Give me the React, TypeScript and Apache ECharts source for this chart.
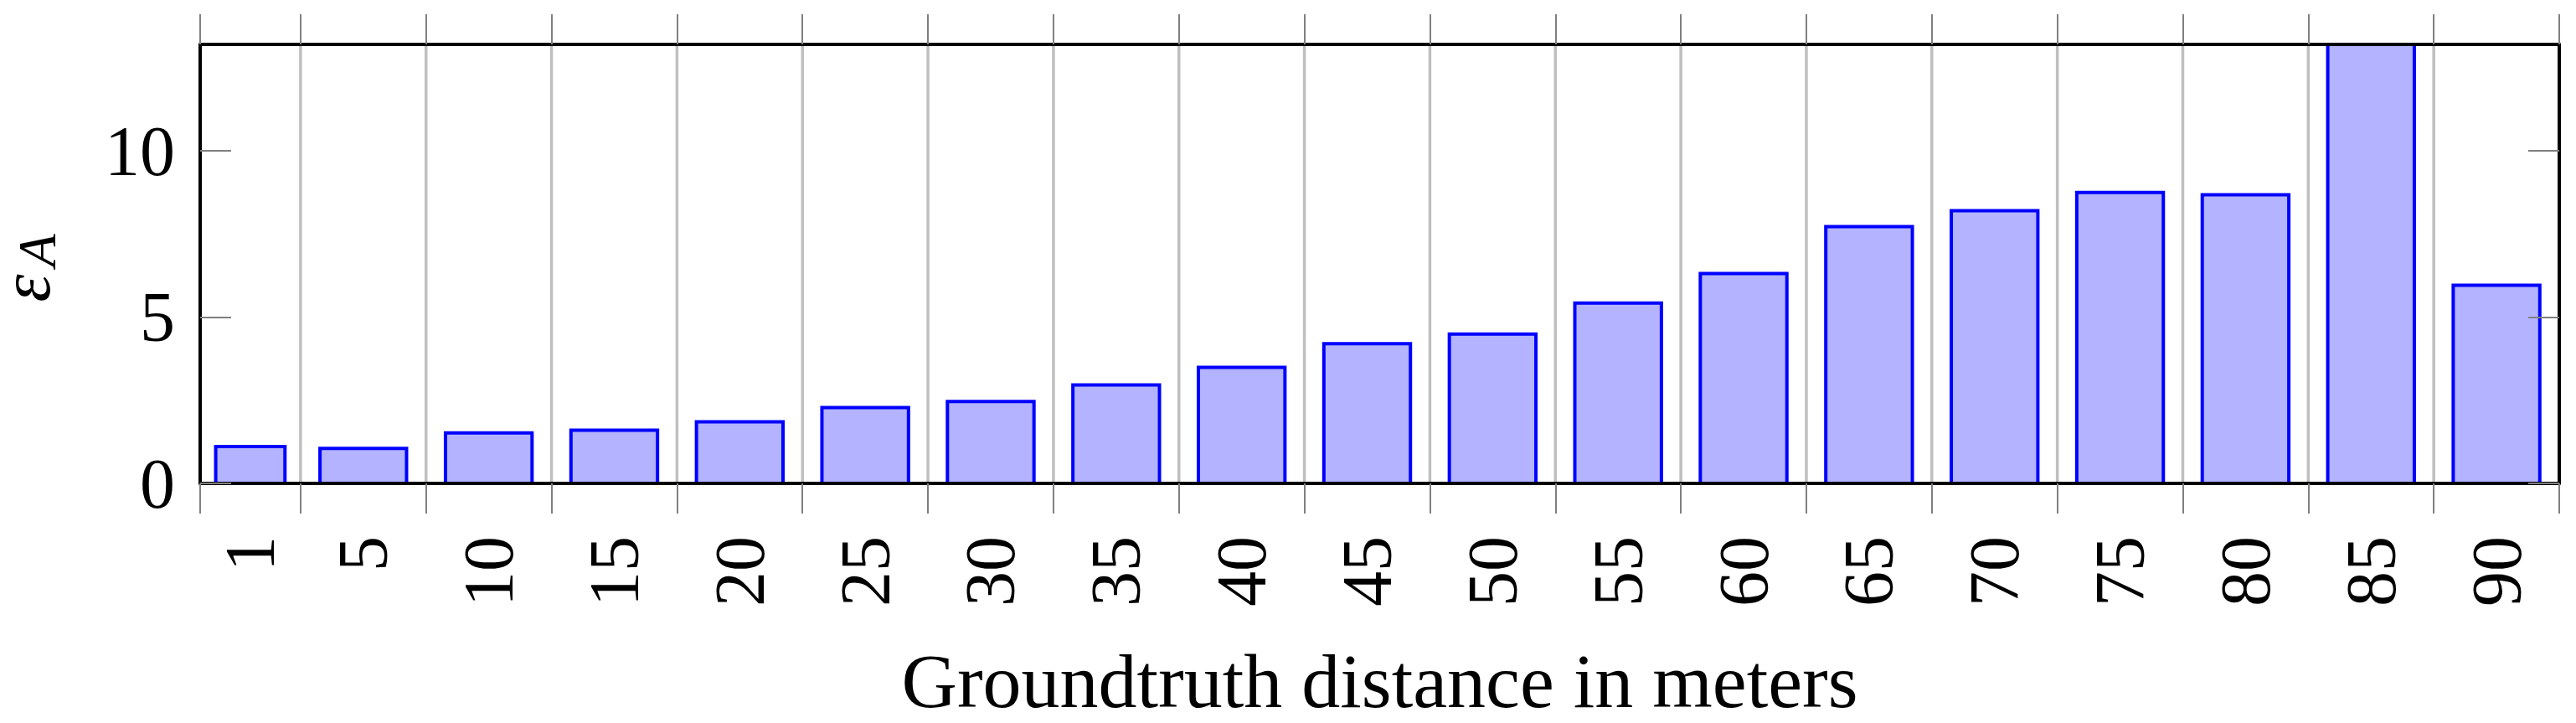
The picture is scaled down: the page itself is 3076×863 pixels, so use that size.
import React, { useEffect, useRef } from "react";
import * as echarts from "echarts";

// ---- data ----
const distanceLabels: string[] = ["1", "5", "10", "15", "20", "25", "30", "35", "40", "45", "50", "55", "60", "65", "70", "75", "80", "85", "90"];
const binEdges: number[] = [1, 5, 10, 15, 20, 25, 30, 35, 40, 45, 50, 55, 60, 65, 70, 75, 80, 85, 90, 95];
const errorValues: number[] = [1.11, 1.05, 1.52, 1.6, 1.85, 2.28, 2.46, 2.96, 3.49, 4.2, 4.49, 5.42, 6.31, 7.72, 8.2, 8.75, 8.68, 13.2, 5.96];
const yTickValues: number[] = [0, 5, 10];
const Y_MAX = 13.2;
const yTitleSymbol = "ε";
const yTitleSubscript = "A";
const xTitle = "Groundtruth distance in meters";

const FONT = "Liberation Serif";
const BAR_FRACTION = 0.69;

export default function App() {
  const ref = useRef<HTMLDivElement>(null);

  useEffect(() => {
    if (!ref.current) return;
    const chart = echarts.init(ref.current, null, { renderer: "svg" });

    const centers = distanceLabels.map((_, i) => (binEdges[i] + binEdges[i + 1]) / 2);
    const barData = errorValues.map((v, i) => [binEdges[i], binEdges[i + 1], v]);
    const gridData = binEdges.slice(1, -1).map((x) => [x, 0]);

    const xCommon = {
      type: "value" as const,
      min: binEdges[0],
      max: binEdges[binEdges.length - 1],
      z: 5,
      splitLine: { show: false },
      axisLine: { show: true, onZero: false, lineStyle: { color: "#000", width: 4 } },
      axisTick: {
        show: true,
        customValues: binEdges,
        length: 36,
        inside: false,
        lineStyle: { color: "#808080", width: 2 },
      },
    };

    const yCommon = {
      type: "value" as const,
      min: 0,
      max: Y_MAX,
      z: 5,
      splitLine: { show: false },
      axisLine: { show: true, onZero: false, lineStyle: { color: "#000", width: 4 } },
      axisTick: {
        show: true,
        customValues: yTickValues,
        length: 37,
        inside: true,
        lineStyle: { color: "#808080", width: 2 },
      },
    };

    chart.setOption({
      animation: false,
      backgroundColor: "#fff",
      grid: { left: 239, right: 20, top: 53, bottom: 286, outerBoundsMode: "none" },
      graphic: [
        {
          type: "text",
          x: 30,
          y: 344,
          rotation: Math.PI / 2,
          style: {
            text: yTitleSymbol,
            font: `italic 84px "${FONT}"`,
            lineHeight: 50,
            fill: "#000",
            textAlign: "center",
            textVerticalAlign: "middle",
          },
        },
        {
          type: "text",
          x: 44,
          y: 299,
          rotation: Math.PI / 2,
          style: {
            text: yTitleSubscript,
            font: `italic 64px "${FONT}"`,
            lineHeight: 50,
            fill: "#000",
            textAlign: "center",
            textVerticalAlign: "middle",
          },
        },
      ],
      xAxis: [
        {
          ...xCommon,
          position: "bottom",
          name: xTitle,
          nameLocation: "middle",
          nameGap: 190,
          nameTextStyle: { fontFamily: FONT, fontSize: 92, color: "#000" },
          axisLabel: {
            show: true,
            customValues: centers,
            rotate: 90,
            margin: 63,
            fontFamily: FONT,
            fontSize: 84,
            color: "#000",
            formatter: (v: number) => {
              const i = centers.findIndex((c) => Math.abs(c - v) < 1e-6);
              return i >= 0 ? distanceLabels[i] : "";
            },
          },
        },
        {
          ...xCommon,
          position: "top",
          axisLabel: { show: false },
        },
      ],
      yAxis: [
        {
          ...yCommon,
          position: "left",
          axisLabel: {
            show: true,
            customValues: yTickValues,
            margin: 30,
            fontFamily: FONT,
            fontSize: 84,
            color: "#000",
          },
        },
        {
          ...yCommon,
          position: "right",
          axisLabel: { show: false },
        },
      ],
      series: [
        {
          type: "custom",
          name: "grid",
          xAxisIndex: 0,
          yAxisIndex: 0,
          z: 1,
          silent: true,
          data: gridData,
          encode: { x: 0, y: 1 },
          renderItem: (params: any, api: any) => {
            const x = api.value(0);
            const p0 = api.coord([x, 0]);
            const p1 = api.coord([x, Y_MAX]);
            return {
              type: "line",
              shape: { x1: p0[0], y1: p0[1], x2: p1[0], y2: p1[1] },
              style: { stroke: "#bfbfbf", lineWidth: 3.5 },
            };
          },
        },
        {
          type: "custom",
          name: "error",
          xAxisIndex: 0,
          yAxisIndex: 0,
          z: 2,
          data: barData,
          encode: { x: [0, 1], y: 2 },
          renderItem: (params: any, api: any) => {
            const x0 = api.value(0);
            const x1 = api.value(1);
            const v = api.value(2);
            const pad = ((x1 - x0) * (1 - BAR_FRACTION)) / 2;
            const p0 = api.coord([x0 + pad, v]);
            const p1 = api.coord([x1 - pad, 0]);
            return {
              type: "rect",
              shape: { x: p0[0], y: p0[1], width: p1[0] - p0[0], height: p1[1] - p0[1] },
              style: { fill: "#b3b3ff", stroke: "#0000ff", lineWidth: 4 },
            };
          },
        },
      ],
    });

    return () => chart.dispose();
  }, []);

  return (
    <div
      ref={ref}
      style={{ position: "absolute", left: 0, top: 0, width: 3076, height: 863, background: "#fff" }}
    />
  );
}
